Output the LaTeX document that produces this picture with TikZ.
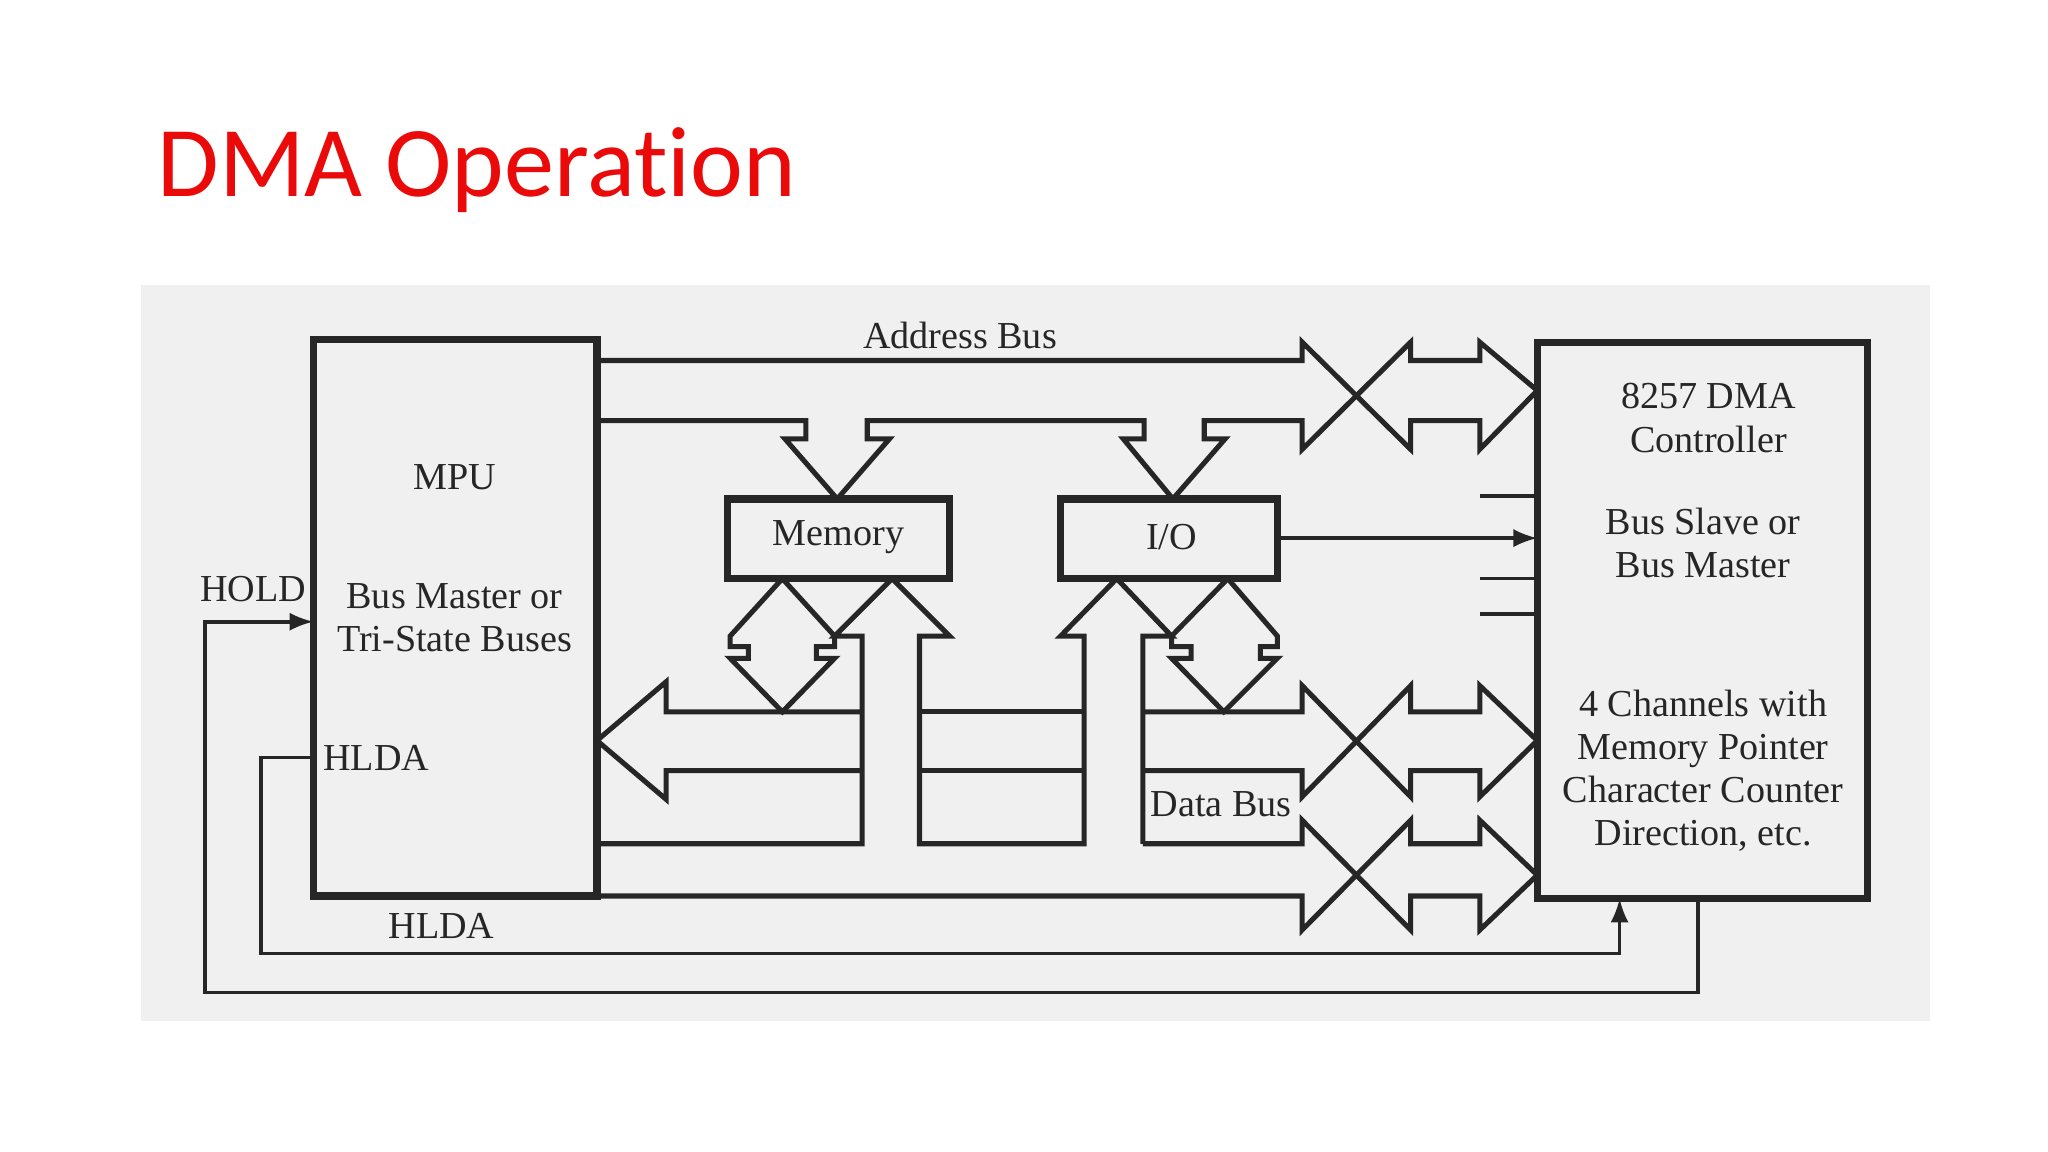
\documentclass[tikz,border=0pt]{standalone}
\usepackage{fontspec}
\setmainfont{Liberation Serif}
\newfontfamily\titlefont[Ligatures=NoCommon]{Carlito}
\begin{document}
\begin{tikzpicture}[x=0.01cm,y=-0.01cm,line join=miter,
  ln/.style={draw=black!85,line width=1.1pt},
  thin/.style={draw=black!85,line width=0.8pt},
  box/.style={ln,line width=1.6pt},
  lbl/.style={font=\fontsize{8.3}{9.4}\selectfont,text=black!85,align=center,inner sep=0pt}]
\useasboundingbox (0,0) rectangle (1568,882);
\fill[white] (0,0) rectangle (1568,882);
\fill[black!6] (108,218) rectangle (1478,782);
\node[font=\titlefont\fontsize{21.8}{26}\selectfont,text={rgb,255:red,235;green,10;blue,10},anchor=west,inner sep=0pt] (title) at (120,130) {DMA Operation};
% boxes
\draw[box] (240,260) rectangle (457,686);
\draw[box] (1177,262) rectangle (1430,688);
\draw[box] (557,382) rectangle (727,443);
\draw[box] (812,382) rectangle (978,443);
\node[lbl] (mem) at (642,411) {Memory};
\node[lbl] (io) at (897,411) {I/O};
\node[lbl] (mputx) at (348,365) {MPU};
\node[lbl] (mpu2) at (348,473) {Bus Master or\\Tri-State Buses};
\node[lbl] (dma1) at (1308,320) {8257 DMA\\Controller};
\node[lbl] (dma2) at (1304,416) {Bus Slave or\\Bus Master};
\node[lbl] (dma3) at (1304,590) {4 Channels with\\Memory Pointer\\Character Counter\\Direction, etc.};
\node[lbl] (ab) at (735,257) {Address Bus};
\node[lbl] (db) at (935,616) {Data Bus};
\node[lbl] (hold) at (194,451) {HOLD};
\node[lbl] (hl1) at (288,580) {HLDA};
\node[lbl] (hl2) at (338,709) {HLDA};
% address bus
\draw[ln] (457,276) -- (997,276) -- (997,262) -- (1080,344) -- (1080,322) -- (1133,322) -- (1133,344) -- (1177,299) -- (1133,262) -- (1133,276) -- (1080,276) -- (1080,262) -- (997,344) -- (997,322)
 -- (922,322) -- (922,336) -- (938,336) -- (898,382) -- (860,336) -- (876,336) -- (876,322) -- (664,322) -- (664,336) -- (681,336) -- (641,382) -- (601,336) -- (617,336) -- (617,322) -- (457,322);
% data bus crossing 1
\draw[ln] (875,545) -- (997,545) -- (997,525) -- (1080,610) -- (1080,590) -- (1133,590) -- (1133,610) -- (1177,567) -- (1133,525) -- (1133,545) -- (1080,545) -- (1080,525) -- (997,610) -- (997,590) -- (875,590);
% crossing 2
\draw[ln] (875,646) -- (997,646) -- (997,628) -- (1080,712) -- (1080,686) -- (1133,686) -- (1133,712) -- (1177,670) -- (1133,628) -- (1133,646) -- (1080,646) -- (1080,628) -- (997,712) -- (997,686) -- (457,686);
% left arrow into MPU
\draw[ln] (660,545) -- (510,545) -- (510,522) -- (457,567) -- (510,612) -- (510,590) -- (660,590);
\draw[ln] (704,545) -- (830,545);
\draw[ln] (704,590) -- (830,590);
% memory bidirectional
\draw[ln] (599,443) -- (559,487) -- (559,495) -- (573,495) -- (573,504) -- (559,504) -- (599,545) -- (639,504) -- (625,504) -- (625,495) -- (639,495) -- (639,487) -- cycle;
% up arrows
\draw[ln] (457,646) -- (660,646) -- (660,487) -- (639,487) -- (683,443) -- (727,487) -- (704,487) -- (704,646) -- (830,646) -- (830,487) -- (812,487) -- (855,443) -- (897,487) -- (875,487) -- (875,646);
% io bidirectional
\draw[ln] (940,443) -- (897,487) -- (897,495) -- (912,495) -- (912,504) -- (897,504) -- (937,545) -- (978,504) -- (965,504) -- (965,495) -- (978,495) -- (978,487) -- cycle;
% io to dma
\draw[thin,-latex] (978,412) -- (1177,412);
\foreach \yy in {380,443,470} \draw[thin] (1133,\yy) -- (1177,\yy);
% HOLD / HLDA
\draw[thin,-latex] (1300,688) -- (1300,760) -- (157,760) -- (157,476) -- (240,476);
\draw[thin,-latex] (240,580) -- (200,580) -- (200,730) -- (1240,730) -- (1240,688);
\end{tikzpicture}
\end{document}
